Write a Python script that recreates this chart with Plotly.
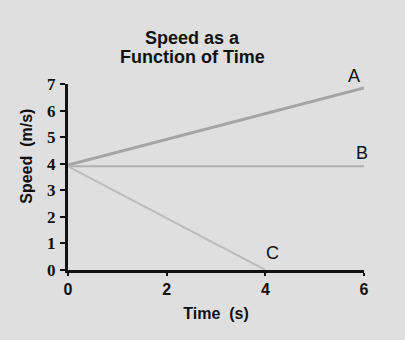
import plotly.graph_objects as go

time_a = [0, 6]
speed_a = [3.95, 6.85]
time_b = [0, 6]
speed_b = [3.9, 3.9]
time_c = [0, 4]
speed_c = [3.9, 0]
labels = ["A", "B", "C"]
label_x = [5.8, 5.95, 4.15]
label_y = [7.3, 4.4, 0.65]
y_max = 7
title_lines = ["Speed as a", "Function of Time"]
y_title = "Speed  (m/s)"
x_title = "Time  (s)"

fig = go.Figure()
fig.add_trace(go.Scatter(x=time_a, y=speed_a, mode="lines", line=dict(color="#a4a4a4", width=3), showlegend=False))
fig.add_trace(go.Scatter(x=time_b, y=speed_b, mode="lines", line=dict(color="#b0b0b0", width=2), showlegend=False))
fig.add_trace(go.Scatter(x=time_c, y=speed_c, mode="lines", line=dict(color="#bcbcbc", width=2), showlegend=False))

for t, x, y in zip(labels, label_x, label_y):
    fig.add_annotation(x=x, y=y / y_max, text=t, showarrow=False, xref="x", yref="paper",
                       xanchor="center", yanchor="middle",
                       font=dict(family="Liberation Sans", size=18, color="#111111"))

for t, py in zip(title_lines, [1.247, 1.145]):
    fig.add_annotation(x=0.419, y=py, text=f"<b>{t}</b>", showarrow=False, xref="paper", yref="paper",
                       xanchor="center", yanchor="middle",
                       font=dict(family="Liberation Sans", size=18, color="#111111"))

fig.add_annotation(x=-0.14, y=0.612, text=f"<b>{y_title}</b>", showarrow=False, xref="paper", yref="paper",
                   xanchor="center", yanchor="middle", textangle=-90,
                   font=dict(family="Liberation Sans", size=16, color="#111111"))

fig.update_layout(
    width=405, height=340,
    paper_bgcolor="#dfdfdf", plot_bgcolor="#dfdfdf",
    margin=dict(l=68, r=41, t=84, b=70),
    xaxis=dict(range=[0, 6], tickvals=[0, 2, 4, 6], ticktext=["<b>0</b>", "<b>2</b>", "<b>4</b>", "<b>6</b>"],
               showgrid=False, zeroline=False, showline=True, linecolor="#111111", linewidth=3,
               ticks="outside", ticklen=3, tickwidth=2, tickcolor="#111111",
               tickfont=dict(family="Liberation Sans", size=16, color="#111111"),
               title=dict(text=f"<b>{x_title}</b>", standoff=11,
                          font=dict(family="Liberation Sans", size=16, color="#111111"))),
    yaxis=dict(range=[0, y_max], tickvals=list(range(8)), ticktext=[f"<b>{i}</b>" for i in range(8)],
               showgrid=False, zeroline=False, showline=True, linecolor="#111111", linewidth=3,
               ticks="outside", ticklen=5, tickwidth=2, tickcolor="#111111", ticklabelstandoff=1,
               tickfont=dict(family="Liberation Serif", size=17, color="#111111")),
)
fig.write_html("out.html")
